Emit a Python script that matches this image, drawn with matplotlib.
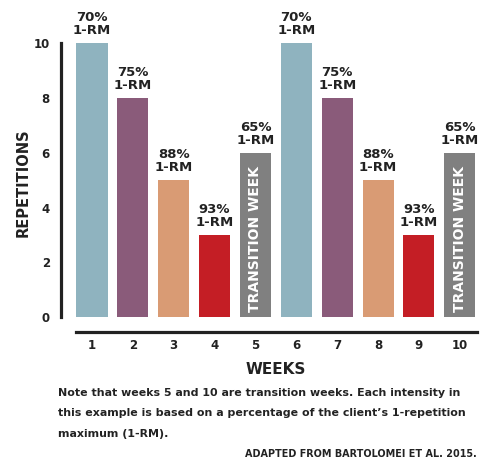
import matplotlib.pyplot as plt

weeks = [1, 2, 3, 4, 5, 6, 7, 8, 9, 10]
reps = [10, 8, 5, 3, 6, 10, 8, 5, 3, 6]
intensity = ["70%", "75%", "88%", "93%", "65%", "70%", "75%", "88%", "93%", "65%"]
transition = [False, False, False, False, True, False, False, False, False, True]
yticks = [0, 2, 4, 6, 8, 10]

BLUE = "#8fb3bf"
PURPLE = "#8a5b7a"
ORANGE = "#d99b74"
RED = "#c41e25"
GREY = "#808080"
colors = [BLUE, PURPLE, ORANGE, RED, GREY] * 2

plt.rcParams["font.family"] = ["DejaVu Sans"]

fig = plt.figure(figsize=(5.0, 4.72), dpi=100)
ax = fig.add_axes([0.122, 0.2966, 0.832, 0.6924])

ax.bar(weeks, reps, width=0.76, color=colors, zorder=2)

for w, r, lab, tr in zip(weeks, reps, intensity, transition):
    ax.text(w, r + 0.22, lab + "\n1-RM", ha="center", va="bottom",
            fontsize=9.5, fontweight="bold", color="#222222",
            linespacing=1.0)
    if tr:
        ax.text(w, 0.2, "TRANSITION WEEK", rotation=90, ha="center",
                va="bottom", fontsize=10, fontweight="bold", color="white")

ax.set_xlim(0.242, 10.42)
ax.set_ylim(-0.547, 11.39)

for s in ["top", "right"]:
    ax.spines[s].set_visible(False)
ax.spines["left"].set_bounds(0, 10)
ax.spines["left"].set_linewidth(2.3)
ax.spines["left"].set_color("#222222")
ax.spines["bottom"].set_bounds(0.61, 10.42)
ax.spines["bottom"].set_linewidth(2.3)
ax.spines["bottom"].set_color("#222222")

ax.set_yticks(yticks)
ax.set_xticks(weeks)
ax.tick_params(axis="x", length=0, labelsize=8.5, pad=5)
ax.tick_params(axis="y", length=0, labelsize=8.5, pad=8)
for t in ax.get_xticklabels() + ax.get_yticklabels():
    t.set_fontweight("bold")
    t.set_color("#222222")

fig.text(0.552, 0.218, "WEEKS", ha="center", va="center",
         fontsize=11, fontweight="bold", color="#222222")
fig.text(0.046, 0.612, "REPETITIONS", ha="center", va="center", rotation=90,
         fontsize=10.5, fontweight="bold", color="#222222")

note = ("Note that weeks 5 and 10 are transition weeks. Each intensity in\n"
        "this example is based on a percentage of the client\u2019s 1-repetition\n"
        "maximum (1-RM).")
fig.text(0.116, 0.178, note, ha="left", va="top", fontsize=7.9,
         fontweight="bold", color="#222222", linespacing=2.3)
fig.text(0.954, 0.038, "ADAPTED FROM BARTOLOMEI ET AL. 2015.", ha="right",
         va="center", fontsize=6.9, fontweight="bold", color="#222222")

fig.savefig("out.png", dpi=100)
